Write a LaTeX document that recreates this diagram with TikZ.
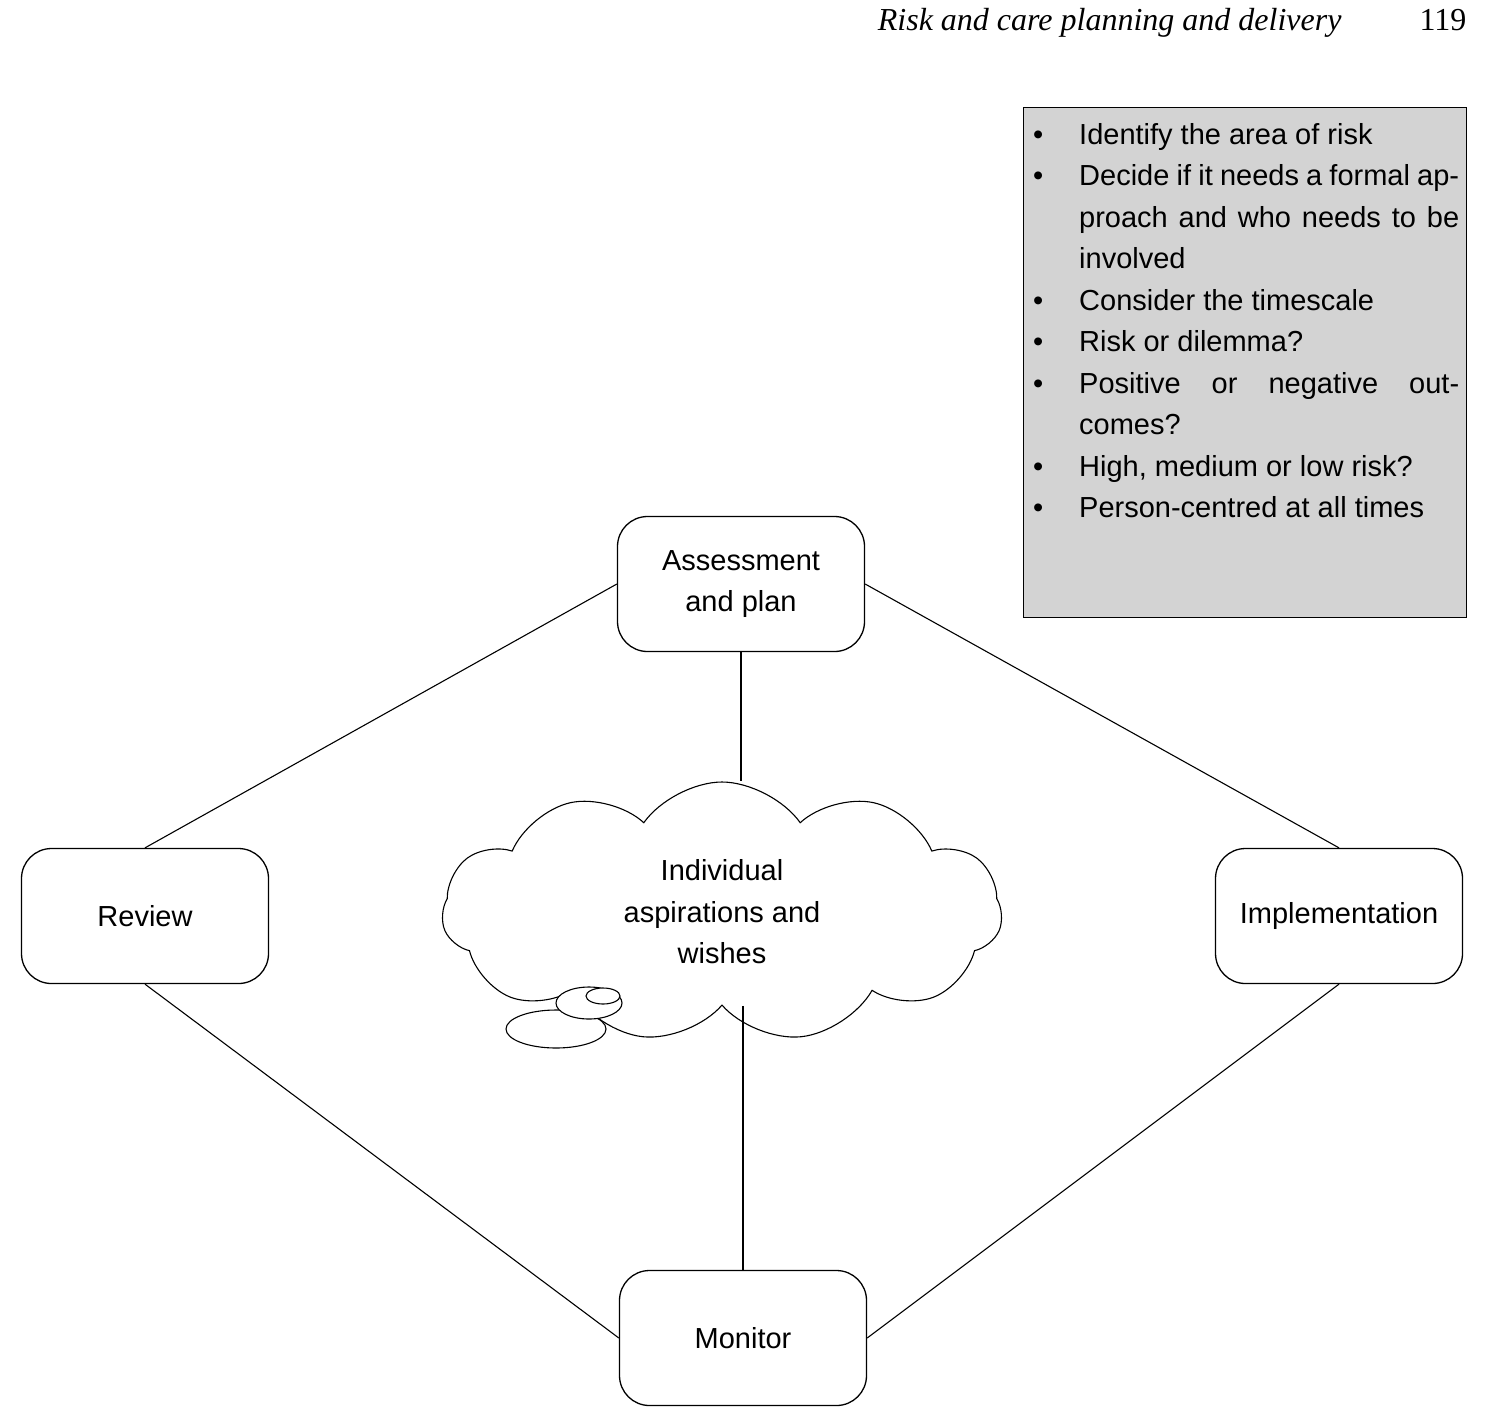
\documentclass[tikz,border=0pt]{standalone}
\usepackage{fontspec}
\setmainfont{Liberation Sans}
\newfontfamily\hdr{Liberation Serif}
\usetikzlibrary{shapes.symbols,shapes.geometric}
\begin{document}
\begin{tikzpicture}[x=1pt,y=-1pt,
  box/.style={draw,line width=1.3pt,rounded corners=30pt,minimum width=247pt,minimum height=135pt,align=center,font=\fontsize{29}{41.5}\selectfont},
  ln/.style={line width=1.1pt},
  bub/.style={draw,line width=1.1pt,fill=white,ellipse}]
\useasboundingbox (0,0) rectangle (1498,1427);
\node[anchor=base east,font=\hdr\itshape\fontsize{32}{36}\selectfont] (hd) at (1345,30) {Risk and care planning and delivery};
\node[anchor=base east,font=\hdr\fontsize{32}{36}\selectfont] (pg) at (1470,30) {119};
\node[box] (A) at (741,584) {Assessment\\and plan};
\node[box] (R) at (145,916) {Review};
\node[box] (I) at (1339,916) {Implementation};
\node[box] (M) at (743,1338) {Monitor};
\node[cloud,cloud puffs=11,cloud puff arc=110,aspect=2.1,draw,line width=1.1pt,minimum width=560pt,minimum height=260pt,align=center,font=\fontsize{29}{41.5}\selectfont] (C) at (722,912) {Individual\\aspirations and\\wishes};
\node[bub,minimum width=100pt,minimum height=38pt] (b1) at (556,1029) {};
\node[bub,minimum width=66pt,minimum height=32pt] (b2) at (589,1003) {};
\node[bub,minimum width=34pt,minimum height=16pt] (b3) at (603,996) {};
\draw[ln] (A.west) -- (R.north);
\draw[ln] (A.east) -- (I.north);
\draw[ln] (R.south) -- (M.west);
\draw[ln] (I.south) -- (M.east);
\draw[ln] (A.south) -- (C.north -| A.south);
\draw[ln] (C.south -| M.north) -- (M.north);
\node[draw,line width=1.3pt,fill={rgb,255:red,211;green,211;blue,211},anchor=north west,minimum width=443pt,minimum height=510pt,inner sep=0pt] (G) at (1023,107) {};
\node[anchor=north west,inner sep=0pt,font=\fontsize{29}{41.5}\selectfont] (T) at (1033,115) {%
\begin{tabular}{@{}p{46pt}@{}p{380pt}@{}}
\textbullet & Identify the area of risk\\
\textbullet & Decide if it needs a formal approach and who needs to be involved\\
\textbullet & Consider the timescale\\
\textbullet & Risk or dilemma?\\
\textbullet & Positive or negative outcomes?\\
\textbullet & High, medium or low risk?\\
\textbullet & Person-centred at all times
\end{tabular}};
\end{tikzpicture}
\end{document}
